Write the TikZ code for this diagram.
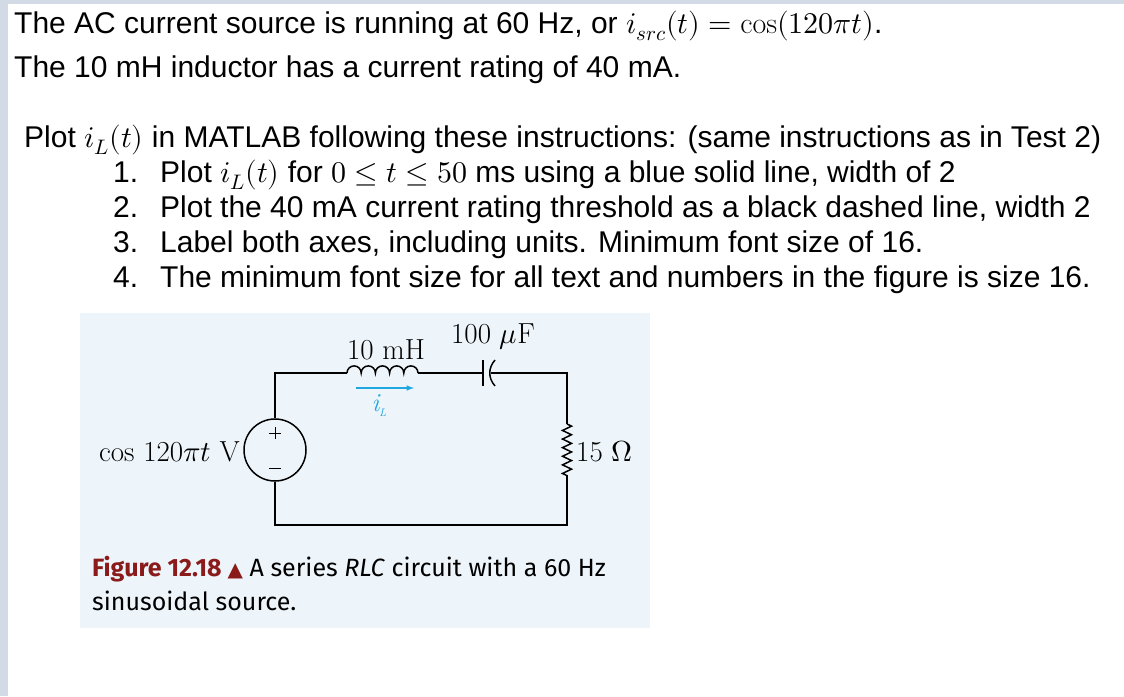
\documentclass[tikz,border=0pt]{standalone}
\usepackage{amsmath}
\usepackage{unicode-math}
\setmainfont{Liberation Sans}
\setmathfont{Latin Modern Math}
\newfontfamily\serifont{Latin Modern Roman}
\newfontfamily\capfont{Fira Sans}
\newfontfamily\symfont{DejaVu Sans}
\usetikzlibrary{decorations.pathmorphing}
\definecolor{bgpanel}{HTML}{EEF5FA}
\definecolor{frame}{HTML}{D2DAE6}
\definecolor{capred}{HTML}{8B1A1A}
\definecolor{cyanish}{HTML}{1FA8E0}
\newcommand{\scos}{\text{\serifont cos}}
\begin{document}
\begin{tikzpicture}[x=1pt,y=-1pt,
  txt/.style={anchor=base west,inner sep=0pt,font=\fontsize{30}{34}\selectfont},
  ctxt/.style={inner sep=0pt,font=\serifont\fontsize{29}{30}\selectfont},
  wire/.style={line width=1.5pt}]
\useasboundingbox (0,0) rectangle (1124,696);
\fill[white] (0,0) rectangle (1124,696);
\fill[frame] (0,0) rectangle (1124,4);
\fill[frame] (0,0) rectangle (8,696);
\node[txt] (l1) at (14,33) {The AC current source is running at 60 Hz, or $i_{src}(t)=\scos(120\pi t)$.};
\node[txt] (l2) at (14,77) {The 10 mH inductor has a current rating of 40 mA.};
\node[txt] (p0) at (24,147) {Plot $i_L(t)$ in MATLAB following these instructions: (same instructions as in Test 2)};
\node[txt] (n1) at (113,182) {1.}; \node[txt] (t1) at (160,182) {Plot $i_L(t)$ for $0\le t\le 50$ ms using a blue solid line, width of 2};
\node[txt] (n2) at (113,217) {2.}; \node[txt] (t2) at (160,217) {Plot the 40 mA current rating threshold as a black dashed line, width 2};
\node[txt] (n3) at (113,252) {3.}; \node[txt] (t3) at (160,252) {Label both axes, including units. Minimum font size of 16.};
\node[txt] (n4) at (113,287) {4.}; \node[txt] (t4) at (160,287) {The minimum font size for all text and numbers in the figure is size 16.};
% panel
\fill[bgpanel] (80,313) rectangle (650,628);
% circuit
\coordinate (tl) at (275,373); \coordinate (tr) at (567,373);
\coordinate (bl) at (275,525); \coordinate (br) at (567,525);
\node[circle,draw,line width=1.5pt,minimum size=62pt,inner sep=0pt] (src) at (275,450) {};
\draw[line width=0.8pt] (269,433) -- (281,433) (275,427) -- (275,439);
\draw[line width=0.8pt] (269,468) -- (281,468);
\coordinate (la) at (347,373); \coordinate (lb) at (418,373);
\coordinate (ca) at (483,373); \coordinate (cb) at (491,373);
\coordinate (ra) at (567,424); \coordinate (rb) at (567,476);
\draw[wire] (src.north) -- (tl) -- (la);
\draw[wire] (la) \foreach \i in {0,...,4} { arc[start angle=180,end angle=0,radius=7.1pt] } ;
\draw[wire] (lb) -- (ca);
\draw[wire] (ca) ++(0,-13) -- ++(0,26);
\draw[wire] (cb)++(4,-13) .. controls ++(-7,8) and ++(-7,-8) .. ++(0,26);
\draw[wire] (cb) -- (tr) -- (ra);
\draw[wire,decorate,decoration={zigzag,segment length=8.6pt,amplitude=4.5pt}] (ra) -- (rb);
\draw[wire] (rb) -- (br) -- (bl) -- (src.south);
\draw[cyanish,line width=1.5pt,-latex] (356,388) -- (414,388);
\node[text=cyanish,inner sep=0pt,font=\serifont\itshape\fontsize{26}{26}\selectfont] (il) at (379,406) {i\raisebox{-5pt}{\fontsize{11}{11}\selectfont L}};
\node[ctxt,anchor=base] (lL) at (386,359) {10 mH};
\node[ctxt,anchor=base] (lC) at (493,343) {100 $\mu$F};
\node[ctxt,anchor=base east] (lV) at (240,461) {cos 120$\pi t$ V};
\node[ctxt,anchor=base west] (lR) at (576,461) {15 $\Omega$};
\node[anchor=base west,inner sep=0pt,font=\capfont\fontsize{25}{30}\selectfont] (cap1) at (92,576)
  {\textcolor{capred}{\textbf{Figure 12.18 {\symfont\fontsize{20}{20}\selectfont ▲}}} A series \textit{RLC} circuit with a 60 Hz};
\node[anchor=base west,inner sep=0pt,font=\capfont\fontsize{25}{30}\selectfont] (cap2) at (92,610) {sinusoidal source.};
\end{tikzpicture}
\end{document}
